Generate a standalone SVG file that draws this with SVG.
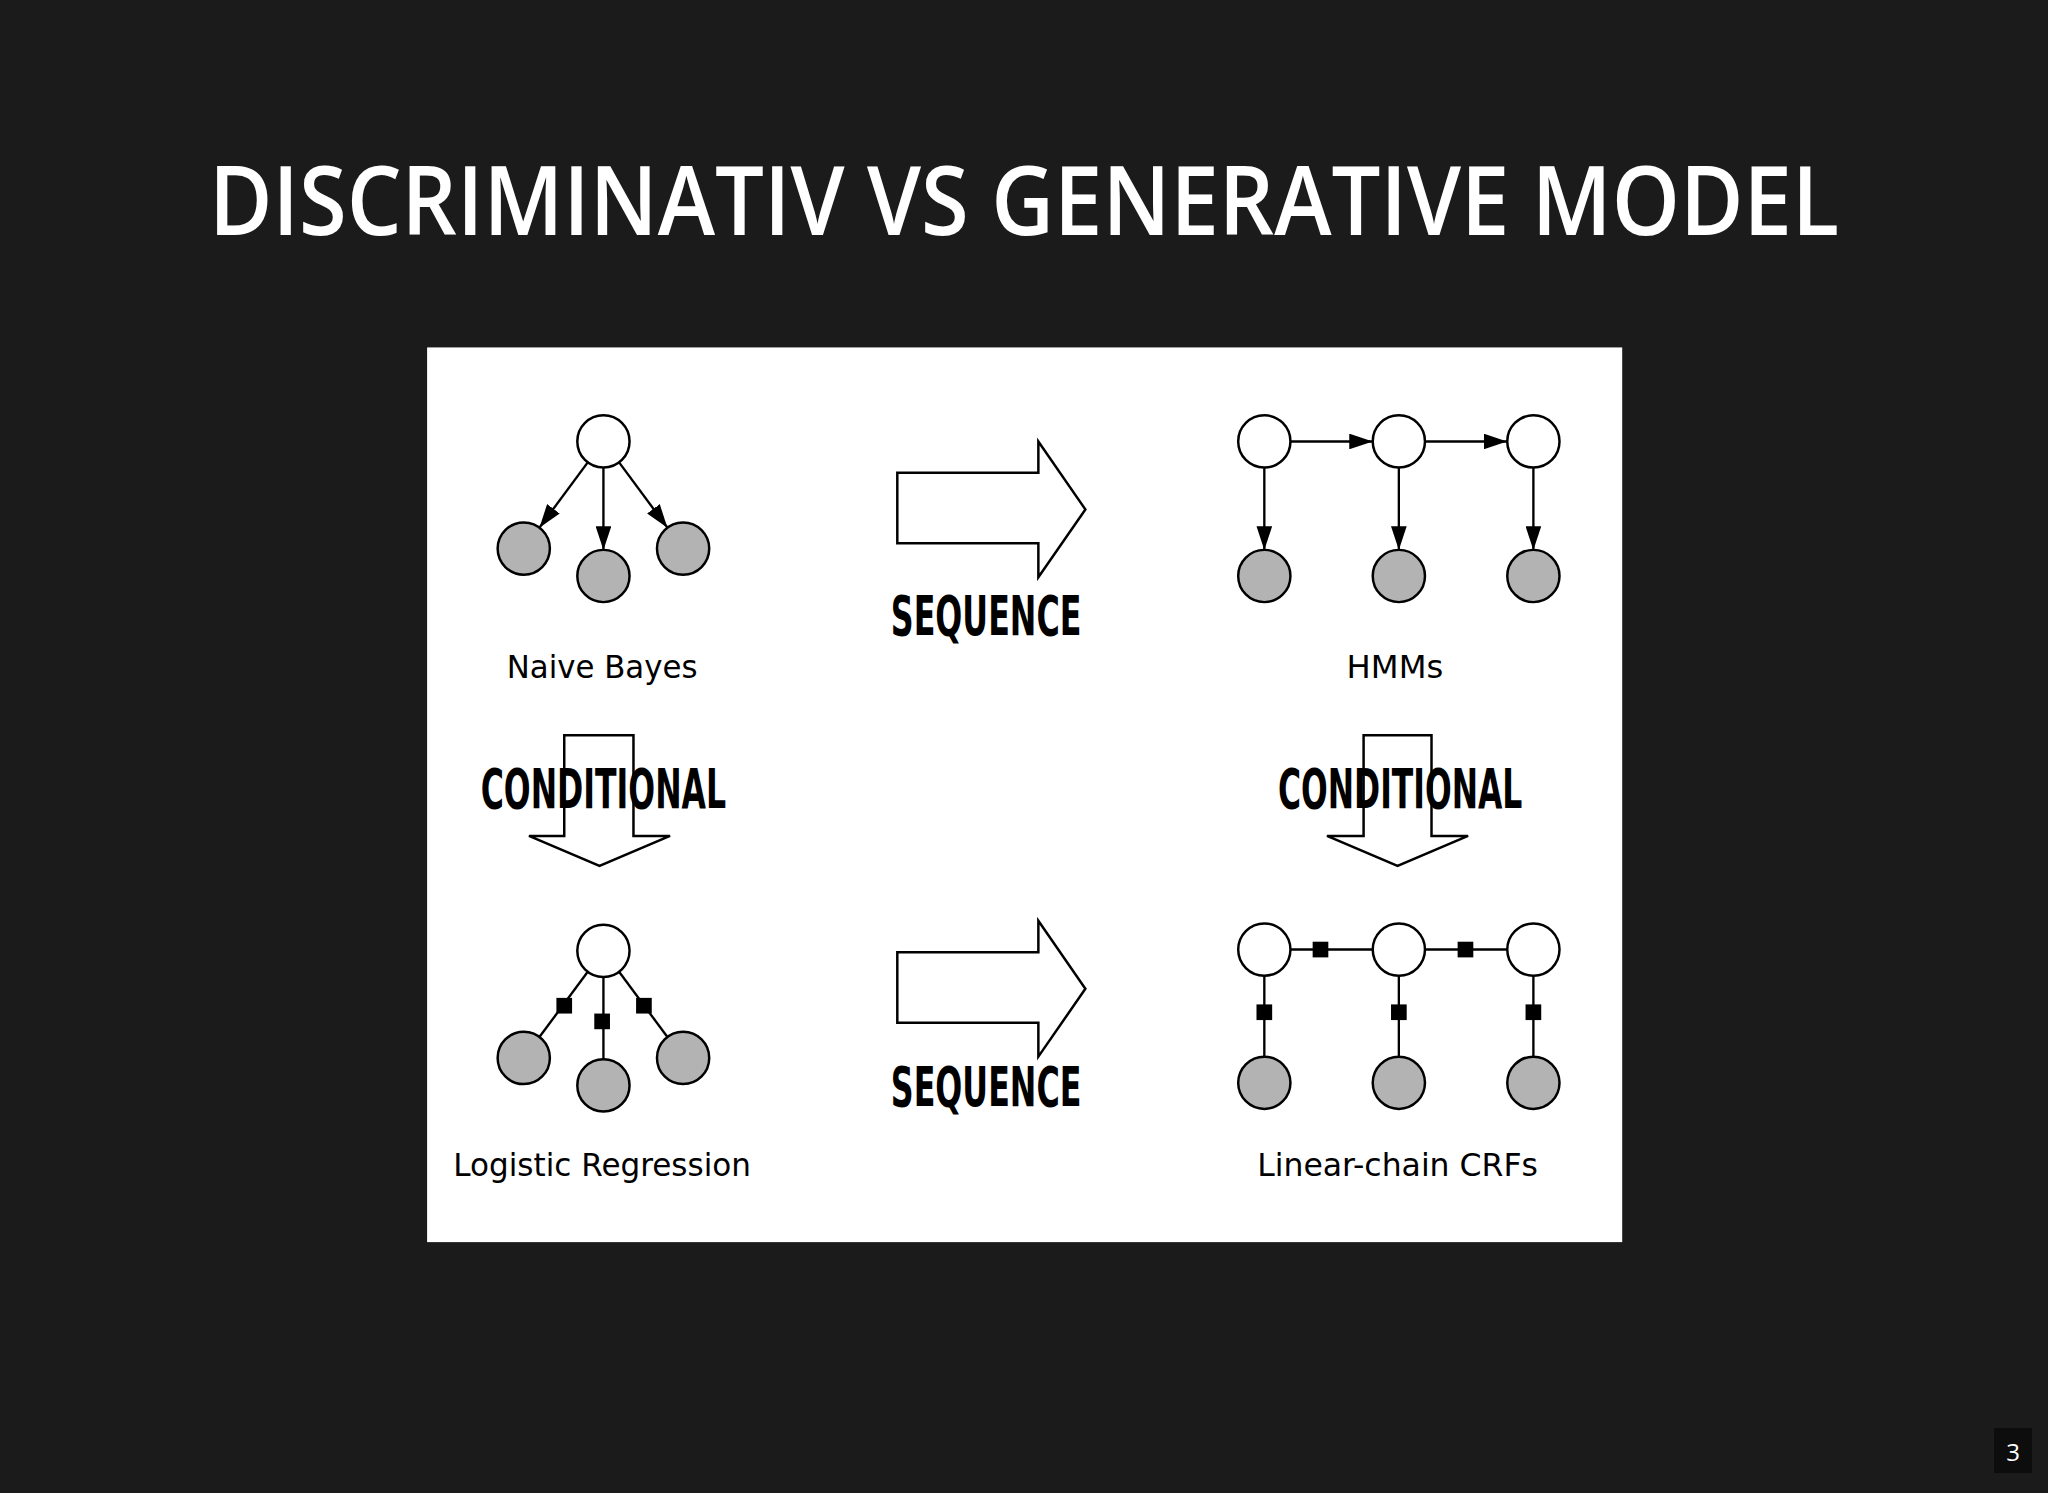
<svg xmlns="http://www.w3.org/2000/svg" width="2048" height="1493" viewBox="0 0 2048 1493">
<style>
.w{fill:#fff;stroke:#000;stroke-width:1.9}
.g{fill:#b3b3b3;stroke:#000;stroke-width:1.9}
.e{stroke:#000;stroke-width:1.8;fill:none}
.lbl{font-family:"DejaVu Sans",sans-serif;font-size:24px;fill:#000;text-anchor:middle}
.big{font-family:"DejaVu Sans Condensed","DejaVu Sans",sans-serif;font-weight:bold;font-size:42px;fill:#000;text-anchor:middle}
.sq{fill:#000}
</style>
<defs>
<marker id="ah" markerUnits="userSpaceOnUse" markerWidth="18" markerHeight="12" refX="18" refY="6" orient="auto"><path d="M0,0 L18,6 L0,12 z" fill="#000"/></marker>
</defs>
<rect width="2048" height="1493" fill="#1b1b1b"/>
<text x="1024" y="235" text-anchor="middle" font-family="'Open Sans',sans-serif" font-weight="600" font-size="96" fill="#fff" textLength="1630" lengthAdjust="spacingAndGlyphs">DISCRIMINATIV VS GENERATIVE MODEL</text>
<rect x="1994" y="1428" width="38" height="45" fill="#0d0d0d"/>
<text x="2013" y="1461" text-anchor="middle" font-family="'Open Sans',sans-serif" font-size="24" fill="#fff">3</text>
<g transform="scale(1.30612)">
<rect x="327" y="266" width="915" height="685" fill="#fff"/>
<g id="connectors">
<line class="e" x1="450" y1="354" x2="413" y2="404" marker-end="url(#ah)"/>
<line class="e" x1="462" y1="358" x2="462" y2="421" marker-end="url(#ah)"/>
<line class="e" x1="474" y1="354" x2="511" y2="404" marker-end="url(#ah)"/>
<line class="e" x1="988" y1="338" x2="1051" y2="338" marker-end="url(#ah)"/>
<line class="e" x1="1091" y1="338" x2="1154" y2="338" marker-end="url(#ah)"/>
<line class="e" x1="968" y1="358" x2="968" y2="421" marker-end="url(#ah)"/>
<line class="e" x1="1071" y1="358" x2="1071" y2="421" marker-end="url(#ah)"/>
<line class="e" x1="1174" y1="358" x2="1174" y2="421" marker-end="url(#ah)"/>
<line class="e" x1="450" y1="744" x2="413" y2="794"/>
<line class="e" x1="462" y1="748" x2="462" y2="811"/>
<line class="e" x1="474" y1="744" x2="511" y2="794"/>
<rect class="sq" x="426" y="764" width="12" height="12"/>
<rect class="sq" x="455" y="776" width="12" height="12"/>
<rect class="sq" x="487" y="764" width="12" height="12"/>
<line class="e" x1="988" y1="727" x2="1051" y2="727"/>
<line class="e" x1="1091" y1="727" x2="1154" y2="727"/>
<line class="e" x1="968" y1="747" x2="968" y2="809"/>
<line class="e" x1="1071" y1="747" x2="1071" y2="809"/>
<line class="e" x1="1174" y1="747" x2="1174" y2="809"/>
<rect class="sq" x="1005" y="721" width="12" height="12"/>
<rect class="sq" x="1116" y="721" width="12" height="12"/>
<rect class="sq" x="962" y="769" width="12" height="12"/>
<rect class="sq" x="1065" y="769" width="12" height="12"/>
<rect class="sq" x="1168" y="769" width="12" height="12"/>
</g>
<g id="naive-bayes">
<circle class="w" cx="462" cy="338" r="20"/>
<circle class="g" cx="401" cy="420" r="20"/>
<circle class="g" cx="462" cy="441" r="20"/>
<circle class="g" cx="523" cy="420" r="20"/>
<text class="lbl" x="461" y="519" textLength="146" lengthAdjust="spacingAndGlyphs">Naive Bayes</text>
</g>
<g id="hmms">
<circle class="w" cx="968" cy="338" r="20"/>
<circle class="w" cx="1071" cy="338" r="20"/>
<circle class="w" cx="1174" cy="338" r="20"/>
<circle class="g" cx="968" cy="441" r="20"/>
<circle class="g" cx="1071" cy="441" r="20"/>
<circle class="g" cx="1174" cy="441" r="20"/>
<text class="lbl" x="1068" y="519" textLength="74" lengthAdjust="spacingAndGlyphs">HMMs</text>
</g>
<g id="logistic-regression">
<circle class="w" cx="462" cy="728" r="20"/>
<circle class="g" cx="401" cy="810" r="20"/>
<circle class="g" cx="462" cy="831" r="20"/>
<circle class="g" cx="523" cy="810" r="20"/>
<text class="lbl" x="461" y="900" textLength="228" lengthAdjust="spacingAndGlyphs">Logistic Regression</text>
</g>
<g id="crfs">
<circle class="w" cx="968" cy="727" r="20"/>
<circle class="w" cx="1071" cy="727" r="20"/>
<circle class="w" cx="1174" cy="727" r="20"/>
<circle class="g" cx="968" cy="829" r="20"/>
<circle class="g" cx="1071" cy="829" r="20"/>
<circle class="g" cx="1174" cy="829" r="20"/>
<text class="lbl" x="1070" y="900" textLength="215" lengthAdjust="spacingAndGlyphs">Linear-chain CRFs</text>
</g>
<g id="seq-top">
<path class="w" d="M687,362 H795 V338 L831,390 L795,442 V416 H687 Z"/>
<text class="big" x="755" y="486" textLength="146" lengthAdjust="spacingAndGlyphs">SEQUENCE</text>
</g>
<g id="seq-bottom">
<path class="w" d="M687,729 H795 V705 L831,757 L795,809 V783 H687 Z"/>
<text class="big" x="755" y="847" textLength="146" lengthAdjust="spacingAndGlyphs">SEQUENCE</text>
</g>
<g id="cond-left">
<path class="w" d="M432,563 H485 V640 H513 L459,663 L405,640 H432 Z"/>
<text class="big" x="462" y="619" textLength="188" lengthAdjust="spacingAndGlyphs">CONDITIONAL</text>
</g>
<g id="cond-right">
<path class="w" d="M1044,563 H1096 V640 H1124 L1070,663 L1016,640 H1044 Z"/>
<text class="big" x="1072" y="619" textLength="187" lengthAdjust="spacingAndGlyphs">CONDITIONAL</text>
</g>
</g>
</svg>
